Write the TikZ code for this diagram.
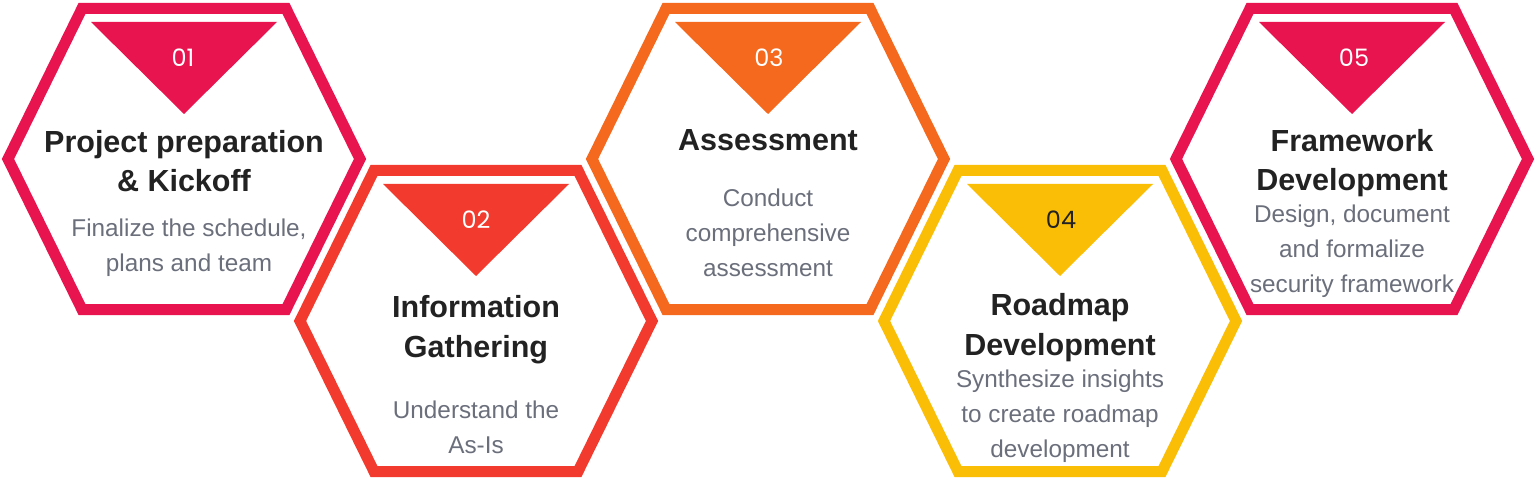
\documentclass[tikz,border=0pt]{standalone}
\usepackage{fontspec}
\setmainfont{Liberation Sans}
\newfontfamily\numfont{Poppins}
\usepackage{xcolor}
\usepackage{tikz}
\definecolor{C1}{HTML}{E8144F}
\definecolor{C2}{HTML}{F23B2E}
\definecolor{C3}{HTML}{F5691F}
\definecolor{C4}{HTML}{FBBE07}
\definecolor{C5}{HTML}{E8144F}
\definecolor{TitleInk}{HTML}{222222}
\definecolor{DescInk}{HTML}{6B6F7B}
\tikzset{
  hexline/.style={draw=#1, line width=11pt, line join=miter},
  numtri/.style={fill=#1},
  numtext/.style={anchor=base, inner sep=0pt, text=#1, font=\numfont\fontsize{24}{26}\selectfont},
  titletext/.style={anchor=base, inner sep=0pt, align=center, text=TitleInk, font=\bfseries\fontsize{30.5}{39.5}\selectfont},
  desctext/.style={anchor=base, inner sep=0pt, align=center, text=DescInk, font=\fontsize{24.3}{35}\selectfont}
}

\begin{document}
\begin{tikzpicture}[x=1pt, y=-1pt]%
\fill[white] (0,0) rectangle (1536,481);%
\useasboundingbox (0,0) rectangle (1536,481);%
% 01
\draw[hexline=C1] (8,159) -- (82,8.5) -- (286,8.5) -- (360,159) -- (286,309.5) -- (82,309.5) -- cycle;%
\fill[numtri=C1] (91,22) -- (277,22) -- (184,114) -- cycle;%
\node[numtext=white] (n1) at (183,67) {01};%
\node[titletext] (t1) at (184,192) {Project preparation\\\& Kickoff};%
\node[desctext] (d1) at (189,271) {Finalize the schedule,\\plans and team};%
% 02
\draw[hexline=C2] (300,321) -- (374,170.5) -- (578,170.5) -- (652,321) -- (578,471.5) -- (374,471.5) -- cycle;%
\fill[numtri=C2] (383,184) -- (569,184) -- (476,276) -- cycle;%
\node[numtext=white] (n2) at (476,229) {02};%
\node[titletext] (t2) at (476,357) {Information\\Gathering};%
\node[desctext] (d2) at (476,453) {Understand the\\As-Is};%
% 03
\draw[hexline=C3] (592,159) -- (666,8.5) -- (870,8.5) -- (944,159) -- (870,309.5) -- (666,309.5) -- cycle;%
\fill[numtri=C3] (675,22) -- (861,22) -- (768,114) -- cycle;%
\node[numtext=white] (n3) at (769,67) {03};%
\node[titletext] (t3) at (768,151) {Assessment};%
\node[desctext] (d3) at (768,276) {Conduct\\comprehensive\\assessment};%
% 04
\draw[hexline=C4] (884,321) -- (958,170.5) -- (1162,170.5) -- (1236,321) -- (1162,471.5) -- (958,471.5) -- cycle;%
\fill[numtri=C4] (967,184) -- (1153,184) -- (1060,276) -- cycle;%
\node[numtext=TitleInk] (n4) at (1061,229) {04};%
\node[titletext] (t4) at (1060,355) {Roadmap\\Development};%
\node[desctext] (d4) at (1060,457) {Synthesize insights\\to create roadmap\\development};%
% 05
\draw[hexline=C5] (1176,159) -- (1250,8.5) -- (1454,8.5) -- (1528,159) -- (1454,309.5) -- (1250,309.5) -- cycle;%
\fill[numtri=C5] (1259,22) -- (1445,22) -- (1352,114) -- cycle;%
\node[numtext=white] (n5) at (1354,67) {05};%
\node[titletext] (t5) at (1352,191) {Framework\\Development};%
\node[desctext] (d5) at (1352,292) {Design, document\\and formalize\\security framework};%
\end{tikzpicture}
\end{document}
